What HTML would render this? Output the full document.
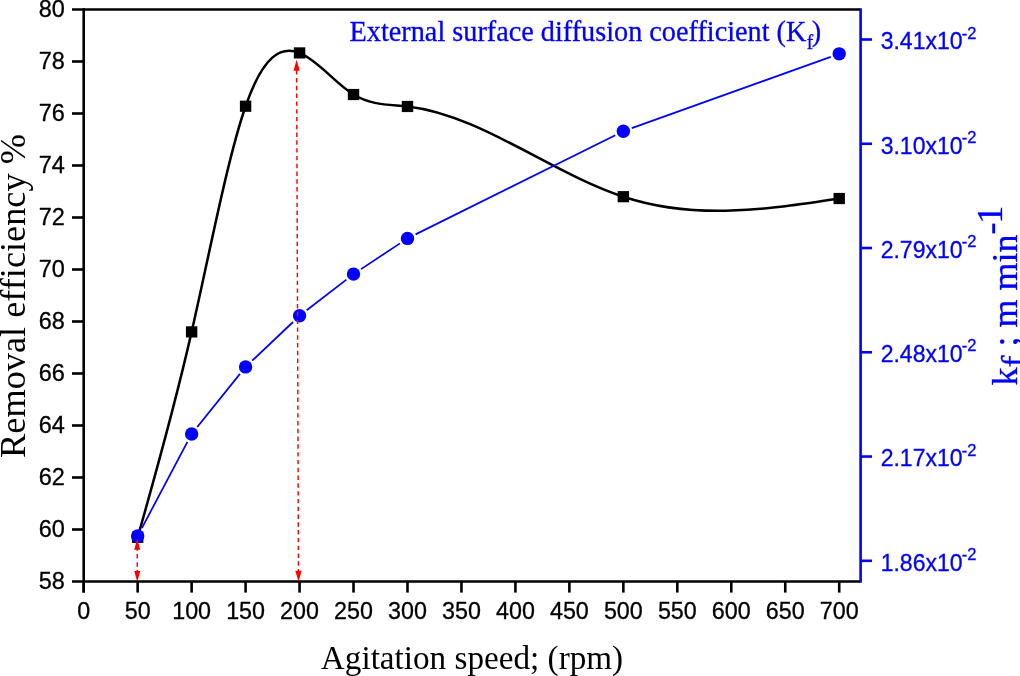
<!DOCTYPE html>
<html><head><meta charset="utf-8"><title>Agitation speed chart</title>
<style>
html,body{margin:0;padding:0;background:#fff;width:1020px;height:676px;overflow:hidden}
svg{display:block}
.sans{font-family:"Liberation Sans",Arial,sans-serif}
.serif{font-family:"Liberation Serif","Times New Roman",serif;stroke-width:0.3px}
.sans{stroke-width:0.3px}
</style></head><body>
<svg width="1020" height="676" viewBox="0 0 1020 676">

<g stroke="#000" stroke-width="2.6" fill="none">
<line x1="72" y1="9.50" x2="860" y2="9.50"/>
<line x1="72" y1="581.5" x2="860" y2="581.5"/>
<line x1="83.7" y1="8.3" x2="83.7" y2="592.6"/>
<line x1="72" y1="529.50" x2="83.7" y2="529.50"/>
<line x1="72" y1="477.50" x2="83.7" y2="477.50"/>
<line x1="72" y1="425.50" x2="83.7" y2="425.50"/>
<line x1="72" y1="373.50" x2="83.7" y2="373.50"/>
<line x1="72" y1="321.50" x2="83.7" y2="321.50"/>
<line x1="72" y1="269.50" x2="83.7" y2="269.50"/>
<line x1="72" y1="217.50" x2="83.7" y2="217.50"/>
<line x1="72" y1="165.50" x2="83.7" y2="165.50"/>
<line x1="72" y1="113.50" x2="83.7" y2="113.50"/>
<line x1="72" y1="61.50" x2="83.7" y2="61.50"/>
<line x1="83.70" y1="581.5" x2="83.70" y2="592.6"/>
<line x1="137.66" y1="581.5" x2="137.66" y2="592.6"/>
<line x1="191.63" y1="581.5" x2="191.63" y2="592.6"/>
<line x1="245.59" y1="581.5" x2="245.59" y2="592.6"/>
<line x1="299.56" y1="581.5" x2="299.56" y2="592.6"/>
<line x1="353.52" y1="581.5" x2="353.52" y2="592.6"/>
<line x1="407.49" y1="581.5" x2="407.49" y2="592.6"/>
<line x1="461.45" y1="581.5" x2="461.45" y2="592.6"/>
<line x1="515.42" y1="581.5" x2="515.42" y2="592.6"/>
<line x1="569.38" y1="581.5" x2="569.38" y2="592.6"/>
<line x1="623.35" y1="581.5" x2="623.35" y2="592.6"/>
<line x1="677.32" y1="581.5" x2="677.32" y2="592.6"/>
<line x1="731.28" y1="581.5" x2="731.28" y2="592.6"/>
<line x1="785.25" y1="581.5" x2="785.25" y2="592.6"/>
<line x1="839.21" y1="581.5" x2="839.21" y2="592.6"/>
</g>
<g stroke="#00f" stroke-width="2.6" fill="none">
<line x1="860.6" y1="8.3" x2="860.6" y2="582.8"/>
<line x1="860.6" y1="560.80" x2="872" y2="560.80"/>
<line x1="860.6" y1="456.54" x2="872" y2="456.54"/>
<line x1="860.6" y1="352.28" x2="872" y2="352.28"/>
<line x1="860.6" y1="248.02" x2="872" y2="248.02"/>
<line x1="860.6" y1="143.76" x2="872" y2="143.76"/>
<line x1="860.6" y1="39.50" x2="872" y2="39.50"/>
</g>
<g class="sans" font-size="23.5" fill="#000" stroke="#000" text-anchor="end">
<text x="64.8" y="588.60">58</text>
<text x="64.8" y="536.60">60</text>
<text x="64.8" y="484.60">62</text>
<text x="64.8" y="432.60">64</text>
<text x="64.8" y="380.60">66</text>
<text x="64.8" y="328.60">68</text>
<text x="64.8" y="276.60">70</text>
<text x="64.8" y="224.60">72</text>
<text x="64.8" y="172.60">74</text>
<text x="64.8" y="120.60">76</text>
<text x="64.8" y="68.60">78</text>
<text x="64.8" y="16.60">80</text>
</g>
<g class="sans" font-size="23.3" fill="#000" stroke="#000" text-anchor="middle">
<text x="83.70" y="619">0</text>
<text x="137.66" y="619">50</text>
<text x="191.63" y="619">100</text>
<text x="245.59" y="619">150</text>
<text x="299.56" y="619">200</text>
<text x="353.52" y="619">250</text>
<text x="407.49" y="619">300</text>
<text x="461.45" y="619">350</text>
<text x="515.42" y="619">400</text>
<text x="569.38" y="619">450</text>
<text x="623.35" y="619">500</text>
<text x="677.32" y="619">550</text>
<text x="731.28" y="619">600</text>
<text x="785.25" y="619">650</text>
<text x="839.21" y="619">700</text>
</g>
<g class="sans" font-size="23" fill="#00f" stroke="#00f">
<text x="880.7" y="570.60">1.86x10<tspan font-size="16.5" dx="-0.8" dy="-10.7">-2</tspan></text>
<text x="880.7" y="466.34">2.17x10<tspan font-size="16.5" dx="-0.8" dy="-10.7">-2</tspan></text>
<text x="880.7" y="362.08">2.48x10<tspan font-size="16.5" dx="-0.8" dy="-10.7">-2</tspan></text>
<text x="880.7" y="257.82">2.79x10<tspan font-size="16.5" dx="-0.8" dy="-10.7">-2</tspan></text>
<text x="880.7" y="153.56">3.10x10<tspan font-size="16.5" dx="-0.8" dy="-10.7">-2</tspan></text>
<text x="880.7" y="49.30">3.41x10<tspan font-size="16.5" dx="-0.8" dy="-10.7">-2</tspan></text>
</g>
<text class="serif" font-size="33.2" x="472.0" y="668.8" text-anchor="middle" fill="#000">Agitation speed; (rpm)</text>
<text class="serif" font-size="36.3" transform="translate(25.4,296) rotate(-90)" text-anchor="middle" fill="#000">Removal efficiency %</text>
<text class="serif" font-size="36" transform="translate(1016.7,385.4) rotate(-90)" fill="#00f" stroke="#00f">k<tspan dy="9.4">f</tspan><tspan dy="-9.4"> ; m min</tspan><tspan dy="-14.4">-</tspan><tspan dx="-1.3">1</tspan></text>
<text class="serif" font-size="29.2" transform="translate(349.6,40.5) scale(0.967,1)" fill="#00f" stroke="#00f">External surface diffusion coefficient (K<tspan font-size="20" dx="0.5" dy="8.4">f</tspan><tspan dx="-1.5" dy="-8.4">)</tspan></text>
<path d="M137.66,537.30 C155.65,474.11 173.64,410.92 191.63,331.90 C209.62,252.88 227.61,158.02 245.59,106.22 C263.58,54.42 281.57,45.66 299.56,52.92 C317.55,60.18 335.54,83.45 353.52,94.52 C371.51,105.59 389.50,104.46 407.49,106.48 C479.44,114.55 551.40,172.97 623.35,196.70 C695.30,220.43 767.26,209.48 839.21,198.52" fill="none" stroke="#000" stroke-width="2.5"/>
<g fill="#000">
<rect x="131.97" y="531.70" width="11.4" height="11.2"/>
<rect x="185.93" y="326.30" width="11.4" height="11.2"/>
<rect x="239.89" y="100.62" width="11.4" height="11.2"/>
<rect x="293.86" y="47.32" width="11.4" height="11.2"/>
<rect x="347.82" y="88.92" width="11.4" height="11.2"/>
<rect x="401.79" y="100.88" width="11.4" height="11.2"/>
<rect x="617.65" y="191.10" width="11.4" height="11.2"/>
<rect x="833.51" y="192.92" width="11.4" height="11.2"/>
</g>
<path d="M141.87,528.04L187.42,441.96M197.27,426.99L239.95,373.91M252.13,360.71L293.02,321.99M306.68,310.30L346.40,279.60M361.03,269.13L399.98,243.37M415.55,234.40L615.29,135.20M631.82,128.16L830.74,56.89" fill="none" stroke="#00f" stroke-width="1.75"/>
<g fill="#00f">
<circle cx="137.66" cy="536.00" r="6.7"/>
<circle cx="191.63" cy="434.00" r="6.7"/>
<circle cx="245.59" cy="366.90" r="6.7"/>
<circle cx="299.56" cy="315.80" r="6.7"/>
<circle cx="353.52" cy="274.10" r="6.7"/>
<circle cx="407.49" cy="238.40" r="6.7"/>
<circle cx="623.35" cy="131.20" r="6.7"/>
<circle cx="839.21" cy="53.85" r="6.7"/>
</g>
<path d="M137.25,546.30L137.25,550.80M137.25,554.10L137.25,558.60M137.25,562.30L137.25,566.70M137.25,570.00L137.25,571.50" stroke="#f00" stroke-width="1.45" fill="none"/><path d="M137.25,538.80L134.25,549.80L140.25,549.80Z" fill="#f00"/><path d="M137.25,581.90L134.25,570.90L140.25,570.90Z" fill="#f00"/>
<path d="M296.64,70.20L296.65,74.60M296.67,78.00L296.68,82.40M296.69,85.79L296.71,90.19M296.72,93.59L296.74,97.99M296.75,101.38L296.77,105.78M296.78,109.18L296.80,113.58M296.81,116.97L296.82,121.37M296.84,124.77L296.85,129.17M296.86,132.56L296.88,136.96M296.89,140.35L296.91,144.75M296.92,148.15L296.94,152.55M296.95,155.94L296.97,160.34M296.98,163.74L296.99,168.14M297.01,171.53L297.02,175.93M297.04,179.33L297.05,183.73M297.06,187.12L297.08,191.52M297.09,194.92L297.11,199.32M297.12,202.71L297.14,207.11M297.15,210.51L297.16,214.91M297.18,218.30L297.19,222.70M297.21,226.10L297.22,230.50M297.23,233.89L297.25,238.29M297.26,241.69L297.28,246.09M297.29,249.48L297.31,253.88M297.32,257.28L297.33,261.68M297.35,265.07L297.36,269.47M297.38,272.87L297.39,277.27M297.40,280.66L297.42,285.06M297.43,288.46L297.45,292.86M297.46,296.25L297.48,300.65M297.49,304.05L297.51,308.45M297.52,311.84L297.53,316.24M297.55,319.64L297.56,324.04M297.57,327.43L297.59,331.83M297.60,335.23L297.62,339.63M297.63,343.02L297.65,347.42M297.66,350.82L297.68,355.22M297.69,358.62L297.70,363.01M297.72,366.41L297.73,370.81M297.74,374.21L297.76,378.61M297.77,382.00L297.79,386.40M297.80,389.80L297.82,394.20M297.83,397.59L297.85,401.99M297.86,405.39L297.87,409.79M297.89,413.18L297.90,417.58M297.91,420.98L297.93,425.38M297.94,428.77L297.96,433.17M297.97,436.57L297.99,440.97M298.00,444.36L298.02,448.76M298.03,452.16L298.04,456.56M298.06,459.95L298.07,464.35M298.09,467.75L298.10,472.15M298.11,475.54L298.13,479.94M298.14,483.34L298.16,487.74M298.17,491.13L298.19,495.53M298.20,498.93L298.21,503.33M298.23,506.72L298.24,511.12M298.26,514.52L298.27,518.92M298.28,522.31L298.30,526.71M298.31,530.11L298.33,534.51M298.34,537.90L298.36,542.30M298.37,545.70L298.38,550.10M298.40,553.49L298.41,557.89M298.43,561.29L298.44,565.69M298.45,569.08L298.46,572.00" stroke="#f00" stroke-width="1.45" fill="none"/><path d="M296.60,59.80L293.49,70.80L299.79,70.80Z" fill="#f00"/><path d="M298.50,581.70L295.31,570.70L301.61,570.70Z" fill="#f00"/>
</svg>
</body></html>
